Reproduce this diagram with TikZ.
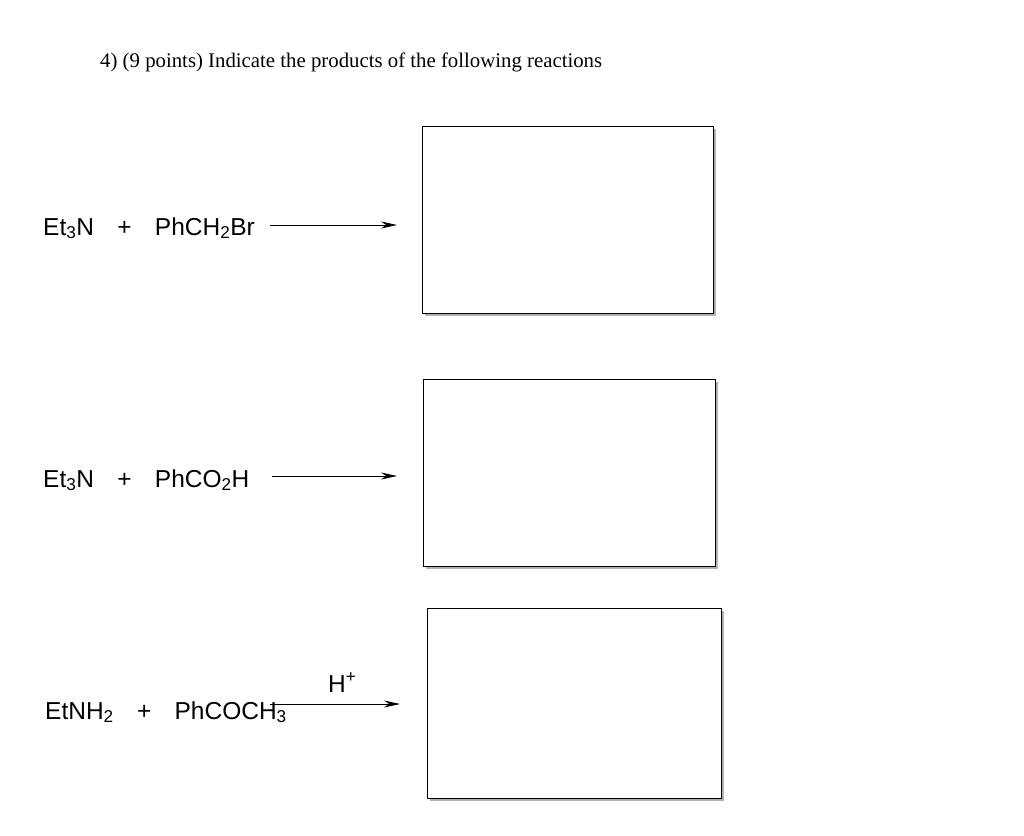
\documentclass[tikz,border=0pt]{standalone}
\usepackage{fontspec}
\setmainfont{Liberation Sans}
\newfontfamily\serif{Liberation Serif}
\usetikzlibrary{arrows.meta}
\newcommand{\sbs}[1]{\textsubscript{#1}}
\newcommand{\sps}[1]{\textsuperscript{#1}}
\begin{document}
\begin{tikzpicture}[x=1pt,y=-1pt,
  chem/.style={font=\fontsize{24.5}{28}\selectfont,inner sep=0pt,anchor=base west},
  rxn/.style={-{Stealth[length=16pt,width=7pt]},line width=0.9pt},
  answer/.style={draw,line width=1pt,fill=white}]
\useasboundingbox (0,0) rectangle (1024,835);
\node[anchor=base west,inner sep=0pt,font=\serif\fontsize{20.8}{24}\selectfont] (title) at (100,67) {4) (9 points) Indicate the products of the following reactions};
\foreach \n/\a/\b/\c/\d in {b1/422/126/713/313, b2/423/379/715/566, b3/427/608/721/798}{
  \fill[gray!60] (\a+3,\b+3) rectangle (\c+3,\d+3);
  \draw[answer] (\a,\b) rectangle (\c,\d);
}
\node[chem] (r1) at (43,235) {Et\sbs{3}N\hspace{0.95em}+\hspace{0.95em}PhCH\sbs{2}Br};
\coordinate (a1s) at (270,225); \coordinate (a1e) at (397,225);
\draw[rxn] (a1s) -- (a1e);
\node[chem] (r2) at (43,487) {Et\sbs{3}N\hspace{0.95em}+\hspace{0.95em}PhCO\sbs{2}H};
\coordinate (a2s) at (272,476); \coordinate (a2e) at (397,476);
\draw[rxn] (a2s) -- (a2e);
\node[chem] (r3) at (45,719) {EtNH\sbs{2}\hspace{0.95em}+\hspace{0.95em}PhCOCH\sbs{3}};
\coordinate (a3s) at (270,704); \coordinate (a3e) at (400,704);
\draw[rxn] (a3s) -- (a3e);
\node[chem] (h) at (328,692) {H\sps{+}};
\end{tikzpicture}
\end{document}
